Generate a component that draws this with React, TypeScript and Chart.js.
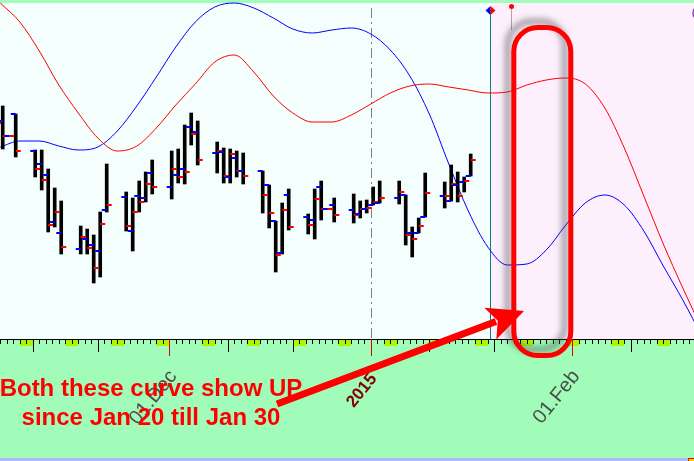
import React, { useEffect, useRef } from 'react';
import { Chart, registerables } from 'chart.js';

Chart.register(...registerables);

// ---------------- data ----------------
const barDates = [
  '2014-11-04', '2014-11-05', '2014-11-06', '2014-11-07',
  '2014-11-10', '2014-11-11', '2014-11-12', '2014-11-13', '2014-11-14',
  '2014-11-17', '2014-11-18', '2014-11-19', '2014-11-20', '2014-11-21',
  '2014-11-24', '2014-11-25', '2014-11-26', '2014-11-27', '2014-11-28',
  '2014-12-01', '2014-12-02', '2014-12-03', '2014-12-04', '2014-12-05',
  '2014-12-08', '2014-12-09', '2014-12-10', '2014-12-11', '2014-12-12',
  '2014-12-15', '2014-12-16', '2014-12-17', '2014-12-18', '2014-12-19',
  '2014-12-22', '2014-12-23', '2014-12-24', '2014-12-25', '2014-12-26',
  '2014-12-29', '2014-12-30', '2014-12-31', '2015-01-01', '2015-01-02',
  '2015-01-05', '2015-01-06', '2015-01-07', '2015-01-08', '2015-01-09',
  '2015-01-12', '2015-01-13', '2015-01-14', '2015-01-15', '2015-01-16',
];
const opens = [
  220, 218, 203, 225,
  188, 175, 164, 117, 106,
  90, 100, 94, 88, 129,
  142, 108, 143, 141, 166,
  152, 164, 170, 212, 207,
  186, 187, 162, 181, 168,
  168, 154, 118, 86, 144,
  122, 119, 152, 130, 134,
  129, 125, 130, 134, 136,
  141, 144, 106, 106, 122,
  143, 138, 154, 157, 163,
];
const highs = [
  232, 233, 203, 225,
  189, 189, 170, 151, 138,
  113, 110, 104, 127, 175,
  147, 141, 158, 167, 179,
  188, 190, 214, 226, 218,
  197, 191, 190, 188, 186,
  168, 154, 118, 136, 150,
  125, 150, 158, 130, 141,
  145, 138, 139, 152, 158,
  158, 144, 112, 121, 166,
  157, 174, 167, 162, 185,
];
const lows = [
  205, 190, 203, 182,
  162, 149, 107, 112, 85,
  85, 85, 56, 62, 127,
  108, 88, 127, 137, 145,
  140, 156, 155, 194, 174,
  166, 156, 156, 162, 155,
  126, 111, 67, 85, 109,
  105, 100, 119, 130, 117,
  116, 121, 126, 134, 136,
  135, 94, 82, 106, 122,
  131, 138, 137, 147, 163,
];
const closes = [
  216, 203, 203, 188,
  170, 159, 114, 127, 92,
  102, 91, 71, 115, 134,
  113, 127, 137, 155, 152,
  170, 162, 167, 205, 179,
  188, 163, 185, 168, 163,
  144, 126, 84, 129, 112,
  114, 140, 130, 130, 124,
  124, 130, 131, 137, 141,
  147, 104, 100, 113, 146,
  143, 155, 143, 158, 179,
];

// smoothed indicator curves (day offsets from 2014-12-01)
const curveDay = [
  -26, -23, -20, -17, -14, -11, -8, -5, -2, 1, 4, 7, 10, 13, 16, 19, 22, 25, 28,
  31, 34, 37, 40, 43, 46, 49, 52, 55, 58, 61, 64, 67, 70, 73, 76, 79, 82,
];
const redCurve = [
  336, 317, 288, 254, 226, 201, 188, 193, 211, 234, 255, 277, 284, 267, 243, 226, 217, 217, 224,
  235, 246, 253, 255, 252, 249, 246, 247, 254, 259, 261, 255, 231, 191, 143, 95, 51, 9,
];
const blueCurve = [
  192, 198, 198, 193, 189, 192, 208, 233, 262, 292, 317, 332, 336, 331, 321, 310, 306, 309, 311,
  305, 289, 263, 225, 175, 128, 92, 74, 75, 89, 114, 136, 144, 134, 108, 73, 39, 2,
];

const monthLabels = [
  { date: '2014-12-01', text: '01.Dec' },
  { date: '2015-02-01', text: '01.Feb' },
];
const yearLabels = [{ date: '2015-01-01', text: '2015' }];
const nowDate = '2015-01-19';
const signalDate = '2015-01-22';
const zoneStart = '2015-01-23';
const zoneEnd = '2015-02-01';
const noteLines = ['Both these curve show UP', 'since Jan 20 till Jan 30'];

// ---------------- helpers ----------------
const BASE = Date.UTC(2014, 11, 1);
const DAY = 86400000;
const dayIndex = (s: string) => {
  const [y, m, d] = s.split('-').map(Number);
  return Math.round((Date.UTC(y, m - 1, d) - BASE) / DAY);
};
const BAR_OFFSET = 0.37;
const X_MIN = -26.046;
const X_MAX = 80.723;
const FONT = '"Liberation Sans", Arial, sans-serif';

function makeTick(color: string, left: boolean) {
  const c = document.createElement('canvas');
  c.width = 12;
  c.height = 2;
  const g = c.getContext('2d')!;
  g.fillStyle = color;
  if (left) g.fillRect(1, 0, 5, 2);
  else g.fillRect(6, 0, 5, 2);
  return c;
}

const decor = {
  id: 'decor',
  beforeDraw(chart: any) {
    const { ctx, chartArea: a, scales } = chart;
    const x = scales.x;
    const W = chart.width;
    const H = chart.height;
    ctx.save();
    ctx.fillStyle = '#f3fefd';
    ctx.fillRect(0, 0, W, a.bottom);
    const nowPx = Math.floor(x.getPixelForValue(dayIndex(nowDate) + BAR_OFFSET));
    ctx.fillStyle = '#fdf0fc';
    ctx.fillRect(nowPx, 0, W - nowPx, a.bottom);
    ctx.fillStyle = '#a0fcb8';
    ctx.fillRect(0, 0, W, 3);
    ctx.fillRect(0, a.bottom, W, H - a.bottom);
    ctx.fillStyle = '#b2b8f6';
    ctx.fillRect(0, H - 3, W, 3);
    ctx.restore();
  },
  beforeDatasetsDraw(chart: any) {
    const { ctx, chartArea: a, scales } = chart;
    const x = scales.x;
    ctx.save();
    // year separator
    const jx = Math.round(x.getPixelForValue(dayIndex(yearLabels[0].date))) + 0.5;
    ctx.strokeStyle = '#808080';
    ctx.lineWidth = 1;
    ctx.setLineDash([10, 4, 2, 4]);
    ctx.beginPath();
    ctx.moveTo(jx, 8);
    ctx.lineTo(jx, a.bottom);
    ctx.stroke();
    ctx.setLineDash([]);
    // "now" line
    const nx = Math.floor(x.getPixelForValue(dayIndex(nowDate) + BAR_OFFSET)) + 0.5;
    ctx.strokeStyle = '#008080';
    ctx.beginPath();
    ctx.moveTo(nx, 10);
    ctx.lineTo(nx, a.bottom);
    ctx.stroke();
    // signal marker
    const sx = Math.round(x.getPixelForValue(dayIndex(signalDate) + 0.6)) + 0.5;
    ctx.strokeStyle = '#a8a8a8';
    ctx.beginPath();
    ctx.moveTo(sx, 7);
    ctx.lineTo(sx, 30);
    ctx.stroke();
    ctx.restore();
  },
  afterDatasetsDraw(chart: any) {
    const { ctx, chartArea: a, scales } = chart;
    const x = scales.x;
    const y0 = a.bottom;
    ctx.save();
    const d0 = Math.floor(X_MIN) - 2;
    const d1 = Math.ceil(X_MAX) + 2;
    // weekend blocks
    ctx.fillStyle = '#aef500';
    for (let d = d0; d <= d1; d++) {
      const dt = new Date(BASE + d * DAY);
      if (dt.getUTCDay() === 6) {
        const p1 = Math.round(x.getPixelForValue(d));
        const p2 = Math.round(x.getPixelForValue(d + 2));
        ctx.fillRect(p1, y0 + 1, p2 - p1, 6);
      }
    }
    // axis line
    ctx.fillStyle = '#000';
    ctx.fillRect(0, y0, chart.width, 1);
    // day ticks
    for (let d = d0; d <= d1; d++) {
      const dt = new Date(BASE + d * DAY);
      const dom = dt.getUTCDate();
      const p = Math.round(x.getPixelForValue(d));
      if (dom === 1) {
        ctx.fillStyle = '#e00000';
        ctx.fillRect(p, y0, 1, 17);
      } else if (dom === 10 || dom === 20) {
        ctx.fillStyle = '#000';
        ctx.fillRect(p, y0, 1, 13);
      } else {
        ctx.fillStyle = '#000';
        ctx.fillRect(p, y0, 1, 5);
      }
    }
    // labels
    const ang = (-51 * Math.PI) / 180;
    ctx.textAlign = 'right';
    ctx.textBaseline = 'middle';
    for (const l of monthLabels) {
      const p = x.getPixelForValue(dayIndex(l.date));
      ctx.save();
      ctx.translate(p + 4, y0 + 34);
      ctx.rotate(ang);
      ctx.font = `20px ${FONT}`;
      ctx.fillStyle = '#4c4c4c';
      ctx.fillText(l.text, 0, 0);
      ctx.restore();
    }
    for (const l of yearLabels) {
      const p = x.getPixelForValue(dayIndex(l.date));
      ctx.save();
      ctx.translate(p + 3, y0 + 37);
      ctx.rotate(ang);
      ctx.font = `bold 17px ${FONT}`;
      ctx.fillStyle = '#800000';
      ctx.fillText(l.text, 0, 0);
      ctx.restore();
    }
    ctx.restore();
  },
  afterDraw(chart: any) {
    const { ctx, scales } = chart;
    const x = scales.x;
    ctx.save();
    // diamond on the now line
    const nx = Math.floor(x.getPixelForValue(dayIndex(nowDate) + BAR_OFFSET)) + 0.5;
    ctx.fillStyle = '#0000ff';
    ctx.beginPath();
    ctx.moveTo(nx, 6);
    ctx.lineTo(nx - 5, 10.5);
    ctx.lineTo(nx, 15);
    ctx.closePath();
    ctx.fill();
    ctx.fillStyle = '#ff0000';
    ctx.beginPath();
    ctx.moveTo(nx, 6);
    ctx.lineTo(nx + 5, 10.5);
    ctx.lineTo(nx, 15);
    ctx.closePath();
    ctx.fill();
    // signal dot
    const sx = Math.round(x.getPixelForValue(dayIndex(signalDate) + 0.6)) + 0.5;
    ctx.fillStyle = '#ff0000';
    ctx.beginPath();
    ctx.arc(sx, 6.5, 2.5, 0, Math.PI * 2);
    ctx.fill();
    // purple circle at the edge
    ctx.strokeStyle = '#9040c0';
    ctx.lineWidth = 1.5;
    ctx.beginPath();
    ctx.arc(700, 13, 7, 0, Math.PI * 2);
    ctx.stroke();
    // highlighted zone
    const xl = x.getPixelForValue(dayIndex(zoneStart));
    const xr = x.getPixelForValue(dayIndex(zoneEnd)) - 1.5;
    ctx.save();
    ctx.shadowColor = 'rgba(70,70,70,0.6)';
    ctx.shadowBlur = 6;
    ctx.shadowOffsetX = -6;
    ctx.shadowOffsetY = -6;
    ctx.strokeStyle = '#ff0000';
    ctx.lineWidth = 5;
    ctx.beginPath();
    (ctx as any).roundRect(xl, 27.5, xr - xl, 328, 24);
    ctx.stroke();
    ctx.restore();
    // arrow
    const ax = 277, ay = 404, tx = 524, ty = 311;
    const an = Math.atan2(ty - ay, tx - ax);
    const ux = Math.cos(an), uy = Math.sin(an);
    const hl = 36, hw = 17;
    const bx = tx - ux * hl, by = ty - uy * hl;
    ctx.strokeStyle = '#ff0000';
    ctx.fillStyle = '#ff0000';
    ctx.lineWidth = 7;
    ctx.beginPath();
    ctx.moveTo(ax, ay);
    ctx.lineTo(bx + ux * 6, by + uy * 6);
    ctx.stroke();
    ctx.beginPath();
    ctx.moveTo(tx, ty);
    ctx.lineTo(bx - uy * hw, by + ux * hw);
    ctx.lineTo(bx + ux * 8, by + uy * 8);
    ctx.lineTo(bx + uy * hw, by - ux * hw);
    ctx.closePath();
    ctx.fill();
    // note text
    ctx.font = `bold 24px ${FONT}`;
    ctx.textAlign = 'center';
    ctx.textBaseline = 'alphabetic';
    ctx.fillStyle = '#ff0000';
    ctx.fillText(noteLines[0], 151, 396);
    ctx.fillText(noteLines[1], 151, 425);
    // corner marker
    ctx.fillStyle = '#ffe000';
    ctx.fillRect(688, 458, 6, 3);
    ctx.strokeStyle = '#ff0000';
    ctx.lineWidth = 1;
    ctx.strokeRect(688.5, 458.5, 6, 3);
    ctx.restore();
  },
};

export default function App() {
  const ref = useRef<HTMLCanvasElement | null>(null);
  useEffect(() => {
    if (!ref.current) return;
    const xs = barDates.map((d) => dayIndex(d) + BAR_OFFSET);
    const openImg = makeTick('#0000ff', true);
    const closeImg = makeTick('#ff0000', false);
    const chart = new Chart(ref.current, {
      type: 'bar',
      data: {
        datasets: [
          {
            type: 'scatter',
            label: 'open',
            data: xs.map((x, i) => ({ x, y: opens[i] })),
            pointStyle: openImg as any,
            pointRadius: 7,
            order: 0,
          } as any,
          {
            type: 'scatter',
            label: 'close',
            data: xs.map((x, i) => ({ x, y: closes[i] })),
            pointStyle: closeImg as any,
            pointRadius: 7,
            order: 0,
          } as any,
          {
            type: 'bar',
            label: 'range',
            data: xs.map((x, i) => ({ x, y: [lows[i], highs[i]] })),
            backgroundColor: '#000000',
            borderWidth: 0,
            barThickness: 3,
            grouped: false,
            order: 1,
          } as any,
          {
            type: 'line',
            label: 'red',
            data: curveDay.map((x, i) => ({ x, y: redCurve[i] })),
            borderColor: '#ff0000',
            borderWidth: 1,
            pointRadius: 0,
            cubicInterpolationMode: 'monotone',
            order: 2,
          } as any,
          {
            type: 'line',
            label: 'blue',
            data: curveDay.map((x, i) => ({ x, y: blueCurve[i] })),
            borderColor: '#0000ff',
            borderWidth: 1,
            pointRadius: 0,
            cubicInterpolationMode: 'monotone',
            order: 2,
          } as any,
        ],
      },
      options: {
        responsive: false,
        animation: false,
        devicePixelRatio: 1,
        layout: { autoPadding: false, padding: { left: 0, right: 0, top: 0, bottom: 122 } },
        plugins: { legend: { display: false }, tooltip: { enabled: false } },
        events: [],
        scales: {
          x: { type: 'linear', min: X_MIN, max: X_MAX, display: false, offset: false },
          y: { type: 'linear', min: 0, max: 339, display: false },
        },
      } as any,
      plugins: [decor],
    });
    return () => chart.destroy();
  }, []);
  return (
    <div style={{ position: 'absolute', left: 0, top: 0, width: 694, height: 461 }}>
      <canvas ref={ref} width={694} height={461} style={{ display: 'block' }} />
    </div>
  );
}
